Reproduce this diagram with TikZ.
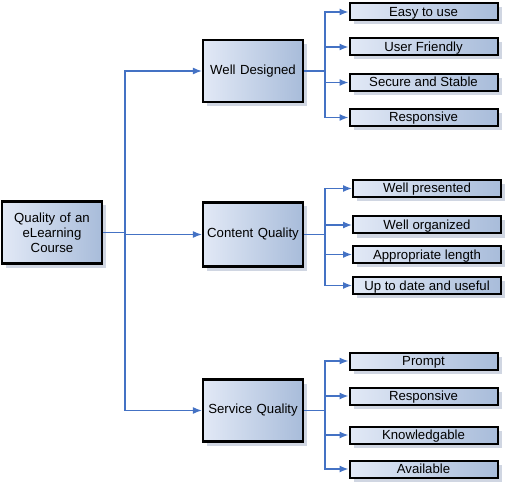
\documentclass[tikz,border=0pt]{standalone}
\usepackage{fontspec}
\setmainfont{Liberation Sans}
\usetikzlibrary{arrows.meta,shadows}

\definecolor{linkblue}{RGB}{68,114,196}
\definecolor{boxtop}{RGB}{226,233,246}
\definecolor{boxbottom}{RGB}{168,188,218}
\definecolor{shadowgray}{RGB}{208,214,226}

\begin{document}
\begin{tikzpicture}[x=1pt, y=-1pt,
  box/.style={draw=black, line width=2.2pt, shading angle=-45,
    left color=boxtop, right color=boxbottom,
    drop shadow={shadow xshift=4pt, shadow yshift=-4pt, fill=shadowgray, opacity=1},
    align=center, inner sep=1pt, font=\fontsize{13.2}{15}\selectfont},
  topic/.style={box, minimum width=100pt, minimum height=62pt, text width=96pt},
  item/.style={box, minimum width=148pt, minimum height=17pt, line width=2pt,
    text height=9.5pt, text depth=0.5pt},
  link/.style={draw=linkblue, line width=1.3pt},
  arrow/.style={link, -{Latex[length=9pt, width=7pt]}}]
\useasboundingbox (0,0) rectangle (508,486);

% root and topics
\node [topic] (course) at (52,232.5) {Quality of an\\eLearning\\Course};
\node [topic] (design) at (253,71) {Well Designed};
\node [topic, minimum height=64pt] (content) at (253,234.5) {Content Quality};
\node [topic] (service) at (253,410.5) {Service Quality};

\coordinate (trunk) at (125,232.5);
\draw [link] (course.east) -- (trunk);
\foreach \topic in {design, content, service} {
  \draw [arrow] (trunk) |- (\topic.west);
  \coordinate (\topic-fork) at (325, 0 |- \topic.east);
  \draw [link] (\topic.east) -- (\topic-fork);
}

% items of each topic
\foreach \y/\label [count=\i] in {12/Easy to use, 47/User Friendly,
    82.5/Secure and Stable, 117.5/Responsive} {
  \node [item] (design-\i) at (423.5,\y) {\label};
  \draw [arrow] (design-fork) |- (design-\i.west);
}
\foreach \y/\label [count=\i] in {188.5/Well presented, 225/Well organized,
    254.5/Appropriate length, 285.5/Up to date and useful} {
  \node [item] (content-\i) at (427,\y) {\label};
  \draw [arrow] (content-fork) |- (content-\i.west);
}
\foreach \y/\label [count=\i] in {361/Prompt, 396/Responsive,
    435/Knowledgable, 469/Available} {
  \node [item] (service-\i) at (423.5,\y) {\label};
  \draw [arrow] (service-fork) |- (service-\i.west);
}
\end{tikzpicture}
\end{document}
